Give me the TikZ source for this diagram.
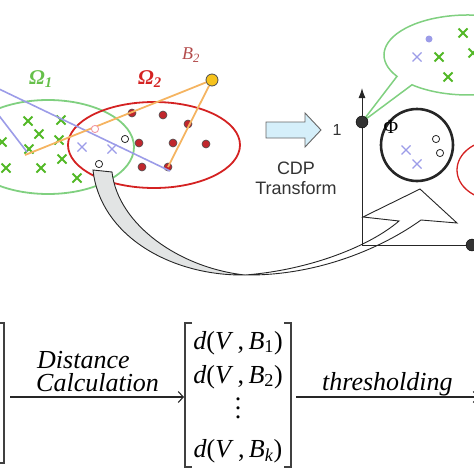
\documentclass[tikz,border=0pt]{standalone}
\usepackage{fontspec}
\setmainfont{Liberation Serif}
\setsansfont{Liberation Sans}
\usetikzlibrary{arrows.meta}
\definecolor{omgreen}{HTML}{80D080}
\definecolor{xgreen}{HTML}{52B826}
\definecolor{omred}{HTML}{D42222}
\definecolor{lav}{HTML}{9C9CE8}
\definecolor{orng}{HTML}{F5B461}
\definecolor{dotred}{HTML}{C0272D}
\definecolor{bluearr}{HTML}{D5EFFA}
\definecolor{ribgray}{HTML}{E2E4E4}
\definecolor{bcol}{HTML}{B34B4B}
\definecolor{ydot}{HTML}{F6C21C}
\definecolor{lblgreen}{HTML}{66C04A}
\newcommand\mycross[3]{\draw[#1] (#2-4.5,#3-4.5) -- (#2+4.5,#3+4.5) (#2-4.5,#3+4.5) -- (#2+4.5,#3-4.5);}
\newcommand\myrdot[2]{\filldraw[reddot] (#1,#2) circle[radius=4];}
\newcommand\myhole[2]{\filldraw[holedot] (#1,#2) circle[radius=3.6];}
\begin{document}
\begin{tikzpicture}[x=1pt,y=-1pt,
  gcross/.style={xgreen,line width=1.9pt},
  lcross/.style={lav,line width=1.4pt},
  reddot/.style={fill=dotred,draw=black!70,line width=0.6pt},
  holedot/.style={fill=white,draw=black!85,line width=0.8pt},
  bigdot/.style={circle,fill=black!80,draw=black,minimum size=12pt,inner sep=0pt},
  mline/.style={black!75,line width=1.2pt},
  lbl/.style={inner sep=0pt,font=\itshape\fontsize{26}{28}\selectfont},
  omlbl/.style={inner sep=0pt,font=\bfseries\itshape\fontsize{21}{22}\selectfont},
  sanslbl/.style={inner sep=0pt,text=black!80,font=\sffamily\fontsize{18}{20}\selectfont}
]
\useasboundingbox (0,0) rectangle (474,474);

% ---- ellipses Omega1, Omega2
\draw[omgreen,line width=1.8pt] (48,147) ellipse[x radius=86,y radius=47];
\draw[omred,line width=1.8pt] (154,145) ellipse[x radius=86,y radius=43];
\node[omlbl,text=lblgreen] (om1) at (41,79) {Ω\textsubscript{1}};
\node[omlbl,text=omred] (om2) at (150,79) {Ω\textsubscript{2}};
\node[inner sep=0pt,text=bcol,font=\itshape\fontsize{18}{20}\selectfont] (b2lbl) at (191,55) {B\textsubscript{2}};

% ---- points
\myrdot{132}{113}\myrdot{163}{115}\myrdot{188}{124}
\myrdot{139}{143}\myrdot{173}{143}\myrdot{206}{144}
\myrdot{142}{167}\myrdot{168}{167}
\myhole{125}{139}\myhole{99}{164}

\mycross{gcross}{28}{121}\mycross{gcross}{61}{120}\mycross{gcross}{39}{134}
\mycross{gcross}{2}{142}\mycross{gcross}{59}{140}\mycross{gcross}{29}{149}
\mycross{gcross}{6}{168}\mycross{gcross}{41}{168}\mycross{gcross}{62}{159}
\mycross{gcross}{77}{178}
\mycross{lcross}{82}{147}\mycross{lcross}{112}{149}

% ---- connecting lines
\coordinate (lA1) at (-3,88);
\coordinate (lB1) at (170,171);
\coordinate (lA2) at (-3,113);
\coordinate (lB2) at (27,152);
\draw[lav,line width=1.6pt] (lA1) -- (lB1);
\draw[lav,line width=1.6pt] (lA2) -- (lB2);
\coordinate (oA) at (25,155);
\coordinate (oB) at (168,167);
\node[circle,fill=ydot,draw=black!70,line width=0.8pt,minimum size=12pt,inner sep=0pt] (B2) at (212,80) {};
\draw[orng,line width=1.8pt] (oA) -- (B2) -- (oB);
\draw[draw=pink!80!purple,fill=white,line width=0.9pt] (95,129) circle[radius=3.6];

% ---- curved ribbon arrow
\fill[ribgray] (93,170) .. controls (100,235) and (170,276) .. (245,275)
   .. controls (180,268) and (118,225) .. (112,172) -- cycle;
\draw[black!85,line width=0.9pt] (93,170) .. controls (100,235) and (170,276) .. (245,275)
   .. controls (180,268) and (118,225) .. (112,172) -- cycle;
\filldraw[fill=white,draw=black!85,line width=0.9pt] (245,275) .. controls (320,276) and (385,246) .. (421,220)
   -- (457,223) -- (420,189) -- (363,217) -- (399,221)
   .. controls (370,246) and (310,270) .. (245,275) -- cycle;

% ---- block arrow and CDP Transform
\draw[draw=black!60,fill=bluearr,line width=0.9pt] (266,122) -- (305,122) -- (305,113) -- (321,130)
   -- (305,147) -- (305,138) -- (266,138) -- cycle;
\node[sanslbl] (cdp) at (296,168) {CDP};
\node[sanslbl] (trf) at (296,188) {Transform};

% ---- speech bubble
\draw[omgreen,line width=1.5pt,fill=white] (362,122) -- (412,84.8)
   arc[start angle=131.8,end angle=-212.3,x radius=84,y radius=40] -- cycle;
\fill[lav] (429,39) circle[radius=3.5];
\mycross{lcross}{417}{57}
\mycross{gcross}{463}{33}\mycross{gcross}{439}{57}\mycross{gcross}{448}{77}\mycross{gcross}{473}{53}

% ---- feature space
\draw[omred,line width=1.3pt] (496,170) ellipse[x radius=39,y radius=30];
\draw[black!85,line width=2.6pt] (417,145) circle[radius=36];
\node[inner sep=0pt,font=\fontsize{20}{22}\selectfont] (phi) at (391,127) {Φ};
\myhole{436}{139}\myhole{440}{153}
\mycross{lcross}{406}{150}\mycross{lcross}{417}{164}

\coordinate (O) at (362,245);
\coordinate (Ytop) at (362,88);
\draw[black!85,line width=1pt,-{Latex[length=10pt,width=7pt]}] (O) -- (Ytop);
\node[bigdot] (Xdot) at (472,245) {};
\draw[black!85,line width=1pt] (O) -- (Xdot);
\node[bigdot] (ydot) at (362,122) {};
\node[sanslbl,font=\sffamily\fontsize{16}{18}\selectfont] (one) at (337,130) {1};
\node[sanslbl,font=\sffamily\fontsize{16}{18}\selectfont] (onex) at (478,268) {1};

% ---- bottom row
\draw[mline] (0,323) -- (4,323) -- (4,463) -- (0,463);
\draw[mline] (192,323) -- (185,323) -- (185,467) -- (192,467);
\draw[mline] (284,323) -- (291,323) -- (291,467) -- (284,467);

\coordinate (a1s) at (10,397);
\coordinate (a1e) at (184,397);
\draw[black!85,line width=1.1pt,-{Straight Barb[length=5pt,width=11pt]}] (a1s) -- (a1e);
\node[lbl,anchor=base west] (dist) at (37,368) {Distance};
\node[lbl,anchor=base west] (calc) at (36,391) {Calculation};

\node[lbl,anchor=base,font=\fontsize{26}{28}\selectfont] (e1) at (238,349) {\textit{d}(\textit{V}\,,\,\textit{B}\textsubscript{1})};
\node[lbl,anchor=base,font=\fontsize{26}{28}\selectfont] (e2) at (238,383) {\textit{d}(\textit{V}\,,\,\textit{B}\textsubscript{2})};
\node[inner sep=0pt,align=center,font=\fontsize{26}{9}\selectfont] (e3) at (238,408) {.\\.\\.};
\node[lbl,anchor=base,font=\fontsize{26}{28}\selectfont] (e4) at (238,457) {\textit{d}(\textit{V}\,,\,\textit{B}\textsubscript{\textit{k}})};

\coordinate (a2s) at (296,397);
\coordinate (a2e) at (479,397);
\draw[black!85,line width=1.1pt,-{Straight Barb[length=5pt,width=11pt]}] (a2s) -- (a2e);
\node[lbl,anchor=base west] (thr) at (322,390) {thresholding};
\end{tikzpicture}
\end{document}
